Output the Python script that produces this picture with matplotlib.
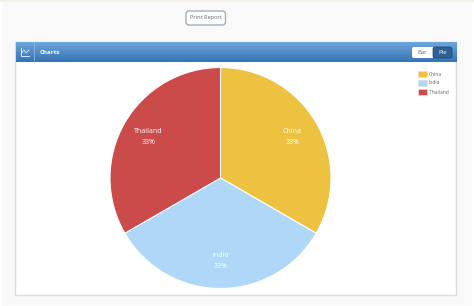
import matplotlib
matplotlib.use("Agg")
import matplotlib.pyplot as plt
from matplotlib.patches import FancyBboxPatch, Rectangle
import numpy as np

W, H = 474, 306

categories = ["China", "India", "Thailand"]
shares = [33.33, 33.33, 33.33]
pct_labels = ["33%", "33%", "33%"]
colors = ["#EDC240", "#AFD8F8", "#CB4B4B"]

plt.rcParams["font.family"] = ["Open Sans", "DejaVu Sans"]

fig = plt.figure(figsize=(W / 100, H / 100), dpi=100, facecolor="#F9F9F9")

# page layer in pixel coords, y going down
page = fig.add_axes([0, 0, 1, 1])
page.set_xlim(0, W)
page.set_ylim(H, 0)
page.axis("off")

page.add_patch(Rectangle((0, 0), W, 2, fc="#F3F1E6", ec="none"))
page.add_patch(Rectangle((472, 2), 2, H, fc="#FFFFFF", ec="none"))
page.add_patch(Rectangle((0, 2), 2, H, fc="#FFFFFF", ec="none"))

# panel
page.add_patch(Rectangle((15.5, 42), 441, 252.5, fc="white", ec="#DDDDDD", lw=1))

# header with vertical gradient
grad = np.linspace(0, 1, 50).reshape(-1, 1)
top = np.array(matplotlib.colors.to_rgb("#6EA5DB"))
bot = np.array(matplotlib.colors.to_rgb("#3674B5"))
img = top + (bot - top) * grad[..., None]
page.imshow(img, extent=(16, 456.5, 62, 42), aspect="auto", zorder=2)
page.set_xlim(0, W)
page.set_ylim(H, 0)
page.plot([34.5, 34.5], [42, 62], color="#9CC0E4", lw=0.5, zorder=3)
page.plot([21, 21, 29], [48, 56, 56], color="#DCE9F6", lw=0.7, zorder=3)
page.plot([21, 24, 26, 29], [54, 50, 53, 50], color="#DCE9F6", lw=0.6, zorder=3)
page.text(39.5, 52, "Charts", color="white", fontsize=4.4, fontweight="bold", va="center", zorder=3)

# print button
page.add_patch(FancyBboxPatch((186, 11), 39.5, 14, boxstyle="round,pad=0,rounding_size=3",
                              fc="white", ec="#A3AEBA", lw=1))
page.text(206, 18, "Print Report", color="#666666", fontsize=4.1, ha="center", va="center")

# bar/pie toggle
page.add_patch(FancyBboxPatch((412, 47), 22, 11, boxstyle="round,pad=0,rounding_size=2",
                              fc="white", ec="none", zorder=3))
page.add_patch(FancyBboxPatch((433, 47), 19, 11, boxstyle="round,pad=0,rounding_size=2",
                              fc="#2F5F93", ec="#1F4469", lw=0.5, zorder=3))
page.text(422.5, 52.5, "Bar", color="#666666", fontsize=4.3, ha="center", va="center", zorder=4)
page.text(442.5, 52.5, "Pie", color="white", fontsize=4.3, ha="center", va="center", zorder=4)

# pie
cx, cy, r = 220.5, 178, 110.5
ax = fig.add_axes([(cx - r) / W, 1 - (cy + r) / H, 2 * r / W, 2 * r / H])
wedges, _ = ax.pie(shares, colors=colors, startangle=90, counterclock=False, radius=1,
                   wedgeprops={"edgecolor": "white", "linewidth": 0.8})
ax.set_xlim(-1, 1)
ax.set_ylim(-1, 1)

mids = [30, -90, 150]
for cat, pct, a in zip(categories, pct_labels, mids):
    x = 0.75 * np.cos(np.radians(a))
    y = 0.75 * np.sin(np.radians(a))
    ax.text(x, y + 0.05, cat, color="white", fontsize=5, ha="center", va="center")
    ax.text(x, y - 0.05, pct, color="white", fontsize=5, ha="center", va="center")

# legend
legend_y = [74, 83, 92]
for cat, c, ly in zip(categories, colors, legend_y):
    page.add_patch(Rectangle((418.5, ly - 3), 8.5, 6, fc=c, ec="#DDDDDD", lw=0.5))
    page.text(429, ly, cat, color="#666666", fontsize=3.6, va="center")

fig.savefig("out.png", dpi=100, facecolor=fig.get_facecolor())
